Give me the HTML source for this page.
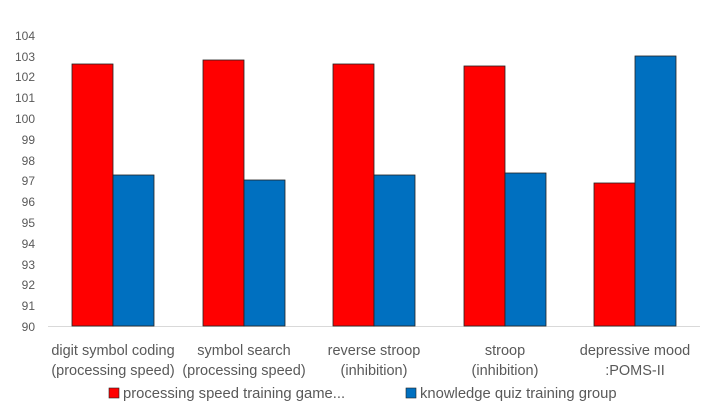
<!DOCTYPE html>
<html><head><style>body{margin:0;background:#fff}</style></head><body>
<svg width="720" height="410" xmlns="http://www.w3.org/2000/svg" font-family="Liberation Sans, sans-serif" fill="#595959">
<g font-size="12" text-anchor="end">
<text x="35" y="40">104</text><text x="35" y="61">103</text><text x="35" y="81">102</text><text x="35" y="102">101</text><text x="35" y="123">100</text><text x="35" y="144">99</text><text x="35" y="165">98</text><text x="35" y="185">97</text><text x="35" y="206">96</text><text x="35" y="227">95</text><text x="35" y="248">94</text><text x="35" y="269">93</text><text x="35" y="289">92</text><text x="35" y="310">91</text><text x="35" y="331">90</text>
</g>
<line x1="48" y1="326.5" x2="700" y2="326.5" stroke="#d9d9d9" stroke-width="1"/>
<g stroke="#222" stroke-width="0.8">
<rect x="72" y="64" width="41" height="262" fill="#ff0000"/>
<rect x="113" y="175" width="41" height="151" fill="#0070c0"/>
<rect x="203" y="60" width="41" height="266" fill="#ff0000"/>
<rect x="244" y="180" width="41" height="146" fill="#0070c0"/>
<rect x="333" y="64" width="41" height="262" fill="#ff0000"/>
<rect x="374" y="175" width="41" height="151" fill="#0070c0"/>
<rect x="464" y="66" width="41" height="260" fill="#ff0000"/>
<rect x="505" y="173" width="41" height="153" fill="#0070c0"/>
<rect x="594" y="183" width="41" height="143" fill="#ff0000"/>
<rect x="635" y="56" width="41" height="270" fill="#0070c0"/>
</g>
<g font-size="14.5" text-anchor="middle">
<text x="113" y="355">digit symbol coding</text><text x="113" y="375">(processing speed)</text>
<text x="244" y="355">symbol search</text><text x="244" y="375">(processing speed)</text>
<text x="374" y="355">reverse stroop</text><text x="374" y="375">(inhibition)</text>
<text x="505" y="355">stroop</text><text x="505" y="375">(inhibition)</text>
<text x="635" y="355">depressive mood</text><text x="635" y="375">:POMS-II</text>
</g>
<rect x="109" y="388" width="10" height="10" fill="#ff0000" stroke="#222" stroke-width="0.6"/>
<text x="123" y="398" font-size="14.8">processing speed training game...</text>
<rect x="406" y="388" width="10" height="10" fill="#0070c0" stroke="#222" stroke-width="0.6"/>
<text x="420" y="398" font-size="14.8">knowledge quiz training group</text>
</svg>
</body></html>
